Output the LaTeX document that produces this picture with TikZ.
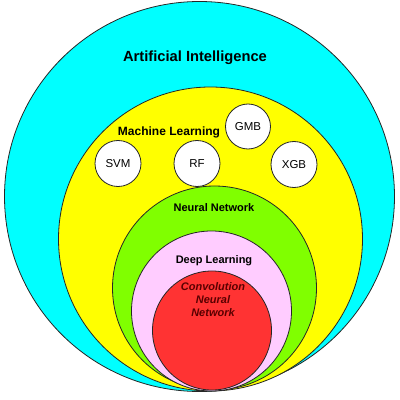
\documentclass[tikz,border=0pt]{standalone}
\usepackage{fontspec}
\setmainfont{Liberation Sans}
\usepackage{xcolor}
\definecolor{aicyan}{HTML}{00FFFF}
\definecolor{mlyellow}{HTML}{FFFF00}
\definecolor{nngreen}{HTML}{80FF00}
\definecolor{dlpink}{HTML}{FFCCFF}
\definecolor{cnnred}{HTML}{FF3333}
\definecolor{cnntext}{HTML}{5A0000}

\begin{document}
\begin{tikzpicture}[x=1pt, y=1pt,
  field/.style={circle, draw=black!85, line width=0.8pt, inner sep=0pt},
  algo/.style={circle, draw=black!85, line width=0.8pt, fill=white, minimum size=46pt, inner sep=0pt, font=\fontsize{11.5}{13}\selectfont},
  lbl/.style={font=\bfseries\fontsize{11}{13}\selectfont}]
  \useasboundingbox (0,0) rectangle (400,400);
  % Artificial Intelligence
  \node[field, fill=aicyan, minimum size=390pt] (ai) at (199.5,203.5) {};
  \node[lbl, font=\bfseries\fontsize{14.7}{17}\selectfont] (ailbl) at (195,342) {Artificial Intelligence};
  % Machine Learning
  \node[field, fill=mlyellow, minimum size=304pt] (ml) at (210.5,161) {};
  \node[lbl, font=\bfseries\fontsize{12}{14}\selectfont] (mllbl) at (169,268) {Machine Learning};
  \node[algo] (svm) at (118,236.5) {SVM};
  \node[algo] (rf) at (197,236.5) {RF};
  \node[algo, minimum size=45pt] (gmb) at (248,273.5) {GMB};
  \node[algo] (xgb) at (294,235.5) {XGB};
  % Neural Network
  \node[field, fill=nngreen, minimum size=204pt] (nn) at (214.5,112) {};
  \node[lbl] (nnlbl) at (214,192) {Neural Network};
  % Deep Learning
  \node[field, fill=dlpink, minimum size=160pt] (dl) at (211.5,89) {};
  \node[lbl] (dllbl) at (214,139) {Deep Learning};
  % Convolution Neural Network
  \node[field, fill=cnnred, minimum size=119pt] (cnn) at (212,69.5) {};
  \node[lbl, font=\bfseries\itshape\fontsize{11}{13}\selectfont, text=cnntext, align=center] (cnnlbl) at (213,100) {Convolution\\Neural\\Network};
\end{tikzpicture}
\end{document}
